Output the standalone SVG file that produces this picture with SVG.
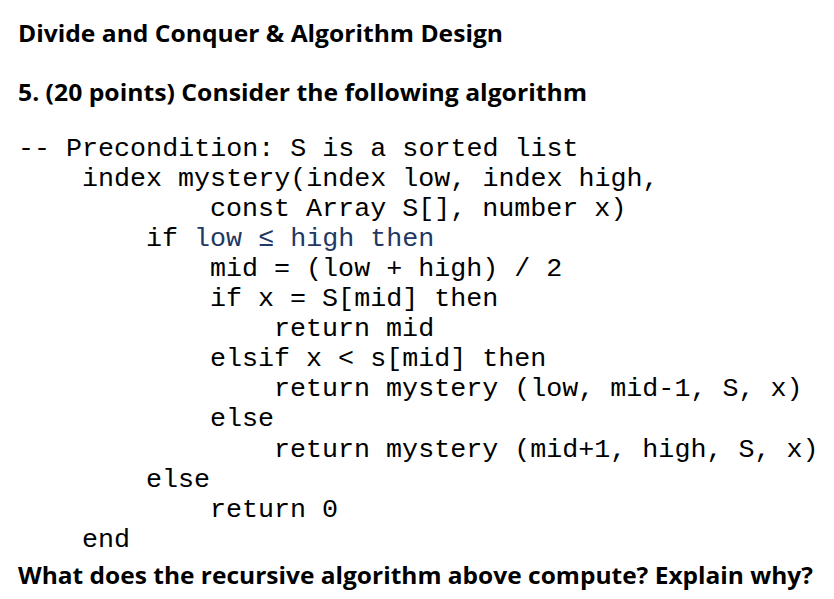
<svg xmlns="http://www.w3.org/2000/svg" width="834" height="599" viewBox="0 0 834 599">
<style>
.h{font-family:"Open Sans","Liberation Sans",sans-serif;font-weight:bold;font-size:24px;fill:#000}
.c{font-family:"Liberation Mono","DejaVu Sans Mono",monospace;font-size:26.7px;fill:#000;white-space:pre}
.b{fill:#1f3864}
</style>
<rect width="834" height="599" fill="#fff"/>
<g id="title">
<text class="h" x="18" y="42" textLength="485" lengthAdjust="spacingAndGlyphs">Divide and Conquer &amp; Algorithm Design</text>
<text class="h" x="18" y="101" textLength="569" lengthAdjust="spacingAndGlyphs">5. (20 points) Consider the following algorithm</text>
</g>
<g id="code">
<text class="c" x="18" y="156">-- Precondition: S is a sorted list</text>
<text class="c" x="82" y="186">index mystery(index low, index high,</text>
<text class="c" x="210" y="216">const Array S[], number x)</text>
<text class="c" x="146" y="246">if <tspan class="b">low ≤ high then</tspan></text>
<text class="c" x="210" y="276">mid = (low + high) / 2</text>
<text class="c" x="210" y="306">if x = S[mid] then</text>
<text class="c" x="274" y="336">return mid</text>
<text class="c" x="210" y="366">elsif x &lt; s[mid] then</text>
<text class="c" x="274" y="396">return mystery (low, mid-1, S, x)</text>
<text class="c" x="210" y="426">else</text>
<text class="c" x="274" y="457">return mystery (mid+1, high, S, x)</text>
<text class="c" x="146" y="487">else</text>
<text class="c" x="210" y="517">return 0</text>
<text class="c" x="82" y="547">end</text>
</g>
<g id="question">
<text class="h" x="18" y="584" textLength="795" lengthAdjust="spacingAndGlyphs">What does the recursive algorithm above compute? Explain why?</text>
</g>
</svg>
